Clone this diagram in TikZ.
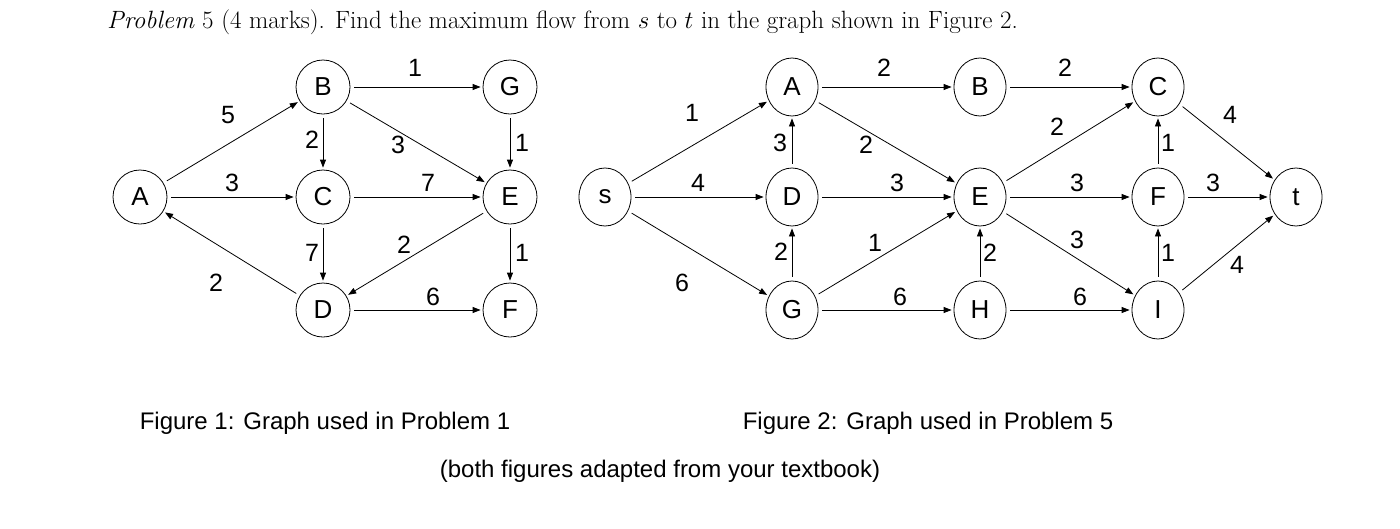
\documentclass[tikz,border=0pt]{standalone}
\usepackage{fontspec}
\newfontfamily\sansf{Liberation Sans}
\usetikzlibrary{arrows.meta,shapes.geometric}
\begin{document}
\begin{tikzpicture}[x=1pt,y=-1pt,
  nd/.style={circle,draw,line width=0.8pt,minimum size=54pt,inner sep=0pt,font=\sansf\fontsize{26}{26}\selectfont},
  en/.style={ellipse,draw,line width=0.8pt,minimum width=52pt,minimum height=58pt,inner sep=0pt,font=\sansf\fontsize{26}{26}\selectfont},
  ed/.style={draw,line width=0.8pt,-{Triangle[length=8pt,width=6pt]},shorten <=4pt,shorten >=2pt},
  lb/.style={font=\sansf\fontsize{25}{25}\selectfont,inner sep=0pt},
  captxt/.style={font=\sansf\fontsize{24}{28}\selectfont,inner sep=0pt}]
\useasboundingbox (0,0) rectangle (1400,528);
\node[anchor=west,inner sep=0pt,font=\fontsize{25}{30}\selectfont] (title) at (107,22) {\textit{Problem} 5 (4 marks). Find the maximum flow from $s$ to $t$ in the graph shown in Figure 2.};
% left graph
\node[nd] (A) at (140,197) {A};
\node[nd] (B) at (323,87) {B};
\node[nd] (G) at (510,87) {G};
\node[nd] (C) at (323,197) {C};
\node[nd] (E) at (510,197) {E};
\node[nd] (D) at (323,310) {D};
\node[nd] (F) at (510,310) {F};
\draw[ed] (A) -- (B); \draw[ed] (A) -- (C); \draw[ed] (D) -- (A);
\draw[ed] (B) -- (G); \draw[ed] (B) -- (C); \draw[ed] (B) -- (E);
\draw[ed] (G) -- (E); \draw[ed] (C) -- (E); \draw[ed] (C) -- (D);
\draw[ed] (E) -- (D); \draw[ed] (E) -- (F); \draw[ed] (D) -- (F);
\node[lb] (l1) at (228,115) {5}; \node[lb] (l2) at (232,183) {3}; \node[lb] (l3) at (216,283) {2};
\node[lb] (l4) at (415,68) {1}; \node[lb] (l5) at (312,140) {2}; \node[lb] (l6) at (398,145) {3};
\node[lb] (l7) at (522,143) {1}; \node[lb] (l8) at (428,183) {7}; \node[lb] (l9) at (312,253) {7};
\node[lb] (l10) at (404,245) {2}; \node[lb] (l11) at (522,253) {1}; \node[lb] (l12) at (433,297) {6};
% right graph
\node[en] (s) at (605,197) {s};
\node[en] (rA) at (792,87) {A};
\node[en] (rB) at (980,87) {B};
\node[en] (rC) at (1158,87) {C};
\node[en] (rD) at (792,197) {D};
\node[en] (rE) at (980,197) {E};
\node[en] (rF) at (1158,197) {F};
\node[en] (t) at (1296,197) {t};
\node[en] (rG) at (792,310) {G};
\node[en] (rH) at (980,310) {H};
\node[en] (rI) at (1158,310) {I};
\draw[ed] (s) -- (rA); \draw[ed] (s) -- (rD); \draw[ed] (s) -- (rG);
\draw[ed] (rA) -- (rB); \draw[ed] (rB) -- (rC); \draw[ed] (rD) -- (rA);
\draw[ed] (rA) -- (rE); \draw[ed] (rD) -- (rE); \draw[ed] (rE) -- (rC);
\draw[ed] (rE) -- (rF); \draw[ed] (rF) -- (rC); \draw[ed] (rC) -- (t);
\draw[ed] (rF) -- (t); \draw[ed] (rG) -- (rD); \draw[ed] (rG) -- (rE);
\draw[ed] (rH) -- (rE); \draw[ed] (rE) -- (rI); \draw[ed] (rI) -- (rF);
\draw[ed] (rI) -- (t); \draw[ed] (rG) -- (rH); \draw[ed] (rH) -- (rI);
\node[lb] (m1) at (692,113) {1}; \node[lb] (m2) at (698,183) {4}; \node[lb] (m3) at (682,283) {6};
\node[lb] (m4) at (884,68) {2}; \node[lb] (m5) at (1065,68) {2}; \node[lb] (m6) at (780,143) {3};
\node[lb] (m7) at (866,145) {2}; \node[lb] (m8) at (897,183) {3}; \node[lb] (m9) at (1057,127) {2};
\node[lb] (m10) at (1077,183) {3}; \node[lb] (m11) at (1168,143) {1}; \node[lb] (m12) at (1230,115) {4};
\node[lb] (m13) at (1213,183) {3}; \node[lb] (m14) at (781,252) {2}; \node[lb] (m15) at (875,243) {1};
\node[lb] (m16) at (990,253) {2}; \node[lb] (m17) at (1077,240) {3}; \node[lb] (m18) at (1168,253) {1};
\node[lb] (m19) at (1237,265) {4}; \node[lb] (m20) at (900,297) {6}; \node[lb] (m21) at (1080,297) {6};
\node[captxt] (c1) at (325,423) {Figure 1: Graph used in Problem 1};
\node[captxt] (c2) at (928,423) {Figure 2: Graph used in Problem 5};
\node[captxt] (c3) at (660,471) {(both figures adapted from your textbook)};
\end{tikzpicture}
\end{document}
